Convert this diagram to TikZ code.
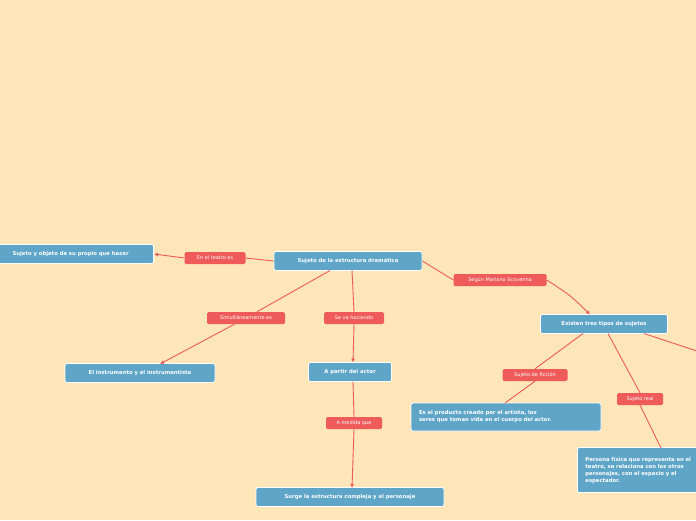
\documentclass[tikz,border=0pt]{standalone}
\usepackage{fontspec}
\setmainfont{DejaVu Sans}
\usetikzlibrary{arrows.meta}
\definecolor{bg}{HTML}{FFE6B8}
\definecolor{bx}{HTML}{5EA5C8}
\definecolor{lb}{HTML}{EF5B5B}
\definecolor{ln}{HTML}{EE5A5A}
\begin{document}
\begin{tikzpicture}[x=1pt,y=-1pt,
 box/.style={fill=bx,draw=white,line width=0.8pt,rounded corners=2pt,text=white,font=\fontsize{5.3}{7}\selectfont\bfseries,inner sep=0pt,align=left},
 lab/.style={fill=lb,rounded corners=1.5pt,text=white,font=\fontsize{5}{6}\selectfont,inner sep=0pt,minimum height=12pt},
 con/.style={draw=ln,line width=0.9pt},
 arr/.style={con,-{Latex[length=4pt,width=4pt]}}]
\useasboundingbox (0,0) rectangle (696,520);
\clip (0,0) rectangle (696,520);
\fill[bg] (0,0) rectangle (696,520);
\node[box,minimum width=148pt,minimum height=19pt] (main) at (348,261) {Sujeto de la estructura dramática};
\node[box,minimum width=166pt,minimum height=19pt,anchor=east] (suj) at (154,254) {Sujeto y objeto de su propio que hacer};
\node[box,minimum width=150pt,minimum height=19pt] (ins) at (140,373) {El instrumento y el instrumentista};
\node[box,minimum width=83pt,minimum height=19pt] (act) at (350,372) {A partir del actor};
\node[box,minimum width=188pt,minimum height=19pt] (sur) at (350,497) {Surge la estructura compleja y el personaje};
\node[box,minimum width=127pt,minimum height=19pt] (exi) at (604,324) {Existen tres tipos de sujetos};
\node[box,minimum width=190pt,minimum height=28pt,text width=174pt] (pro) at (506,417) {Es el producto creado por el artista, los\\seres que toman vida en el cuerpo del actor.};
\node[box,minimum height=45pt,text width=150pt,anchor=west] (per) at (577,470) {\hspace*{8pt}Persona física que representa en el\\\hspace*{8pt}teatro, se relaciona con los otros\\\hspace*{8pt}personajes, con el espacio y el\\\hspace*{8pt}espectador.};
\coordinate (off) at (700,352);
\node[lab,minimum width=61pt] (l1) at (215,258) {En el teatro es};
\node[lab,minimum width=78pt] (l2) at (246,318) {Simultáneamente es};
\node[lab,minimum width=60pt] (l3) at (354,318) {Se va haciendo};
\node[lab,minimum width=56pt] (l4) at (354,423) {A medida que};
\node[lab,minimum width=93pt] (l5) at (500,280) {Según Mariano Scovenna};
\node[lab,minimum width=65pt] (l6) at (535,375) {Sujeto de ficción};
\node[lab,minimum width=46pt] (l7) at (640,399) {Sujeto real};
\draw[con] (main.west) -- (l1.east);
\draw[arr] (l1.west) -- (suj.east);
\draw[con] (330,270.5) -- (l2);
\draw[arr] (l2) -- (160,364);
\draw[con] (352,270.5) -- (l3.north);
\draw[arr] (l3.south) -- (353,362.5);
\draw[con] (353,381.5) -- (l4.north);
\draw[arr] (l4.south) -- (352,488);
\draw[con] (main.east) -- (l5.west);
\draw[arr] (l5.east) .. controls (570,295) .. (590,314.5);
\draw[con] (583,333.5) -- (l6.north);
\draw[con] (l6.south) -- (505,403);
\draw[con] (608,333.5) -- (l7.north);
\draw[con] (l7.south) -- (661,448);
\draw[con] (644,333.5) -- (off);
\end{tikzpicture}
\end{document}
